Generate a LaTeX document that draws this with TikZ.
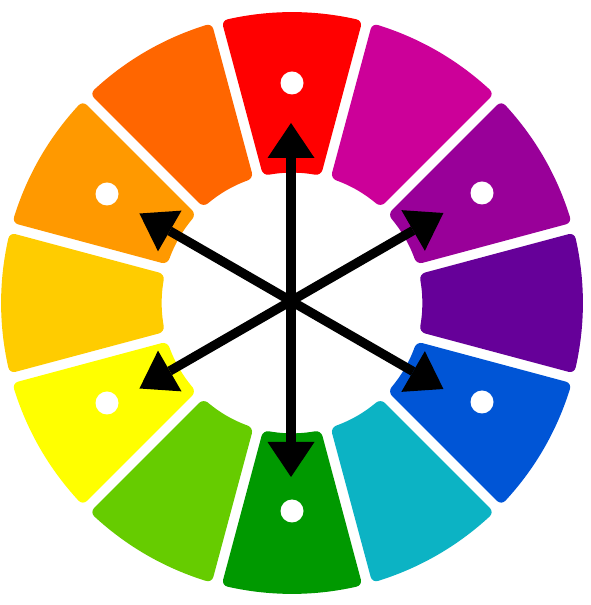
\documentclass[tikz,border=0pt]{standalone}
\usetikzlibrary{arrows.meta}
\definecolor{cRed}{HTML}{FF0000}
\definecolor{cMagenta}{HTML}{CC0099}
\definecolor{cPurple}{HTML}{990099}
\definecolor{cViolet}{HTML}{660099}
\definecolor{cBlue}{HTML}{0055D6}
\definecolor{cTeal}{HTML}{0CB3C4}
\definecolor{cGreen}{HTML}{009900}
\definecolor{cLime}{HTML}{66CC00}
\definecolor{cYellow}{HTML}{FFFF00}
\definecolor{cAmber}{HTML}{FFCC00}
\definecolor{cOrange}{HTML}{FF9900}
\definecolor{cRedOrange}{HTML}{FF6600}
\newcommand\wheelseg[2]{%
  \fill[#2, segstyle] ({#1-\ao}:\Ro) \foreach \k in {1,...,10}{ -- ({#1-\ao+\k*2*\ao/10}:\Ro)}
    -- ({#1+\ai}:\Ri) \foreach \k in {1,...,5}{ -- ({#1+\ai-\k*2*\ai/5}:\Ri)} -- cycle;
}
\begin{document}
\begin{tikzpicture}[x=1pt,y=1pt]
\useasboundingbox (0,0) rectangle (591,605);
\tikzset{
  segstyle/.style={rounded corners=6pt},
  dotstyle/.style={circle, fill=white, inner sep=0pt, minimum size=23pt},
  arrowstyle/.style={line width=9.3pt, -{Triangle[length=35pt,width=47pt,line width=0pt]}}
}
\def\Ro{291}\def\Ri{130.5}\def\ao{14.0}\def\ai{12.8}
\begin{scope}[shift={(292,302)}]
\wheelseg{90}{cRed}
\wheelseg{60}{cMagenta}
\wheelseg{30}{cPurple}
\wheelseg{0}{cViolet}
\wheelseg{-30}{cBlue}
\wheelseg{-60}{cTeal}
\wheelseg{-90}{cGreen}
\wheelseg{-120}{cLime}
\wheelseg{-150}{cYellow}
\wheelseg{180}{cAmber}
\wheelseg{150}{cOrange}
\wheelseg{120}{cRedOrange}
\end{scope}
% dots
\node[dotstyle] (dRed) at (292,522) {};
\node[dotstyle] (dPurple) at (482,412) {};
\node[dotstyle] (dBlue) at (482,203) {};
\node[dotstyle] (dGreen) at (292,94) {};
\node[dotstyle] (dYellow) at (107,202) {};
\node[dotstyle] (dOrange) at (107,411) {};
% arrows
\coordinate (c) at (291,304);
\path (c) ++(90:178) coordinate (t1);
\path (c) ++(30:176) coordinate (t2);
\path (c) ++(-30:176) coordinate (t3);
\path (c) ++(-90:176) coordinate (t4);
\path (c) ++(-150:175) coordinate (t5);
\path (c) ++(150:175) coordinate (t6);
\foreach \t in {t1,t2,t3,t4,t5,t6}{\draw[arrowstyle] (c) -- (\t);}
\end{tikzpicture}
\end{document}
